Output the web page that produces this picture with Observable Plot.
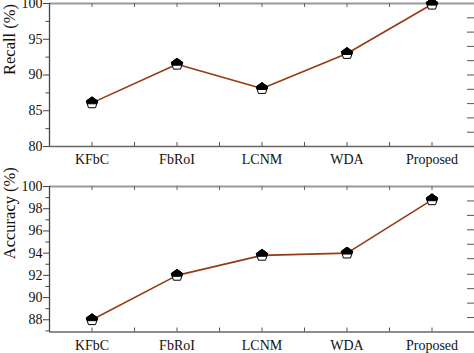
<!DOCTYPE html>
<html>
<head>
<meta charset="utf-8">
<script src="https://cdn.jsdelivr.net/npm/d3@7"></script>
<script src="https://cdn.jsdelivr.net/npm/@observablehq/plot@0.6"></script>
<style>
  html, body { margin: 0; padding: 0; background: #fff; }
  #chart svg { display: block; }
</style>
</head>
<body>
<div id="chart"></div>
<script>
const categories = ["KFbC", "FbRoI", "LCNM", "WDA", "Proposed"];
const recall = [86.1, 91.5, 88.1, 93.0, 99.9];
const accuracy = [88.0, 92.0, 93.8, 94.0, 98.8];

const recallTicks = [80, 85, 90, 95, 100];
const recallMinor = [82.5, 87.5, 92.5, 97.5];
const recallRight = [82, 84, 86, 88, 90, 92, 94, 96, 98];

const accuracyTicks = [88, 90, 92, 94, 96, 98, 100];
const accuracyMinor = [87, 89, 91, 93, 95, 97, 99];
const accuracyRight = [88.2, 89.5, 90.8, 92.1, 93.5, 94.8, 96.1, 97.4, 98.7];

const catTicks = [0, 1, 2, 3, 4];
const midTicks = [0.5, 1.5, 2.5, 3.5];

function pentPts(r) {
  return d3.range(5).map(k => {
    const a = -Math.PI / 2 + k * 2 * Math.PI / 5;
    return [r * Math.cos(a), r * Math.sin(a)];
  });
}
const pentagon = {
  draw(ctx, size) {
    const r = Math.sqrt(size / Math.PI);
    const p = pentPts(r);
    ctx.moveTo(p[0][0], p[0][1]);
    for (let k = 1; k < 5; k++) ctx.lineTo(p[k][0], p[k][1]);
    ctx.closePath();
  }
};
const pentagonTop = {
  draw(ctx, size) {
    const r = Math.sqrt(size / Math.PI);
    const p = pentPts(r);
    const y0 = 0.15 * r;
    const t = (y0 - p[1][1]) / (p[2][1] - p[1][1]);
    const xr = p[1][0] + t * (p[2][0] - p[1][0]);
    ctx.moveTo(p[0][0], p[0][1]);
    ctx.lineTo(p[1][0], p[1][1]);
    ctx.lineTo(xr, y0);
    ctx.lineTo(-xr, y0);
    ctx.lineTo(p[4][0], p[4][1]);
    ctx.closePath();
  }
};

const W = 474, ML = 49, MR = 0;
const font = "'Liberation Serif', 'Times New Roman', serif";
const lineColor = "#953a12";

function panel({values, domain, ticks, minor, right, label, height, marginTop, marginBottom}) {
  const data = values.map((v, i) => ({i, v}));
  const plotH = height - marginTop - marginBottom;
  const plotW = W - ML - MR;
  return Plot.plot({
    width: W,
    height,
    marginLeft: ML,
    marginRight: MR,
    marginTop,
    marginBottom,
    style: {fontFamily: font, fontSize: "14px", color: "#000", background: "#fff", overflow: "visible"},
    x: {domain: [-0.5, 4.5]},
    y: {domain},
    marks: [
      Plot.ruleY([domain[1]], {stroke: "#9a9a9a", strokeWidth: 2}),
      Plot.ruleY([domain[0]], {stroke: "#666", strokeWidth: 1.3}),
      Plot.ruleX([-0.5], {stroke: "#444", strokeWidth: 1.3}),
      Plot.axisY(ticks, {anchor: "left", tickSize: 6, tickPadding: 1, stroke: "#444",
        label: null, fontSize: 14, fill: "#111"}),
      Plot.axisY(minor, {anchor: "left", tickSize: 3.5, tickFormat: () => "", label: null, stroke: "#444"}),
      Plot.text([label], {frameAnchor: "left", rotate: -90, dx: -40, fontSize: 16.5, fill: "#111"}),
      Plot.axisX(catTicks, {anchor: "bottom", tickSize: 0, tickPadding: 8,
        tickFormat: i => categories[i], label: null, fontSize: 14, fill: "#111"}),
      Plot.tickX(catTicks.concat(midTicks), {x: d => d, insetTop: plotH - 4, stroke: "#555"}),
      Plot.tickX(catTicks.concat(midTicks), {x: d => d, insetBottom: plotH - 4, stroke: "#666"}),
      Plot.tickY(right, {y: d => d, insetLeft: plotW - 7, stroke: "#555"}),
      Plot.line(data, {x: "i", y: "v", stroke: lineColor, strokeWidth: 1.6}),
      Plot.dot(data, {x: "i", y: "v", symbol: pentagon, r: 6, fill: "#fff", stroke: "#000", strokeWidth: 1}),
      Plot.dot(data, {x: "i", y: "v", symbol: pentagonTop, r: 6, fill: "#000", stroke: "#000", strokeWidth: 1})
    ]
  });
}

const topPanel = panel({values: recall, domain: [80, 100], ticks: recallTicks, minor: recallMinor,
  right: recallRight, label: "Recall (%)", height: 172, marginTop: 3, marginBottom: 26});
const bottomPanel = panel({values: accuracy, domain: [86.9, 100], ticks: accuracyTicks, minor: accuracyMinor,
  right: accuracyRight, label: "Accuracy (%)", height: 181, marginTop: 14, marginBottom: 21.5});

const chart = document.getElementById("chart");
chart.appendChild(topPanel);
chart.appendChild(bottomPanel);
</script>
</body>
</html>
